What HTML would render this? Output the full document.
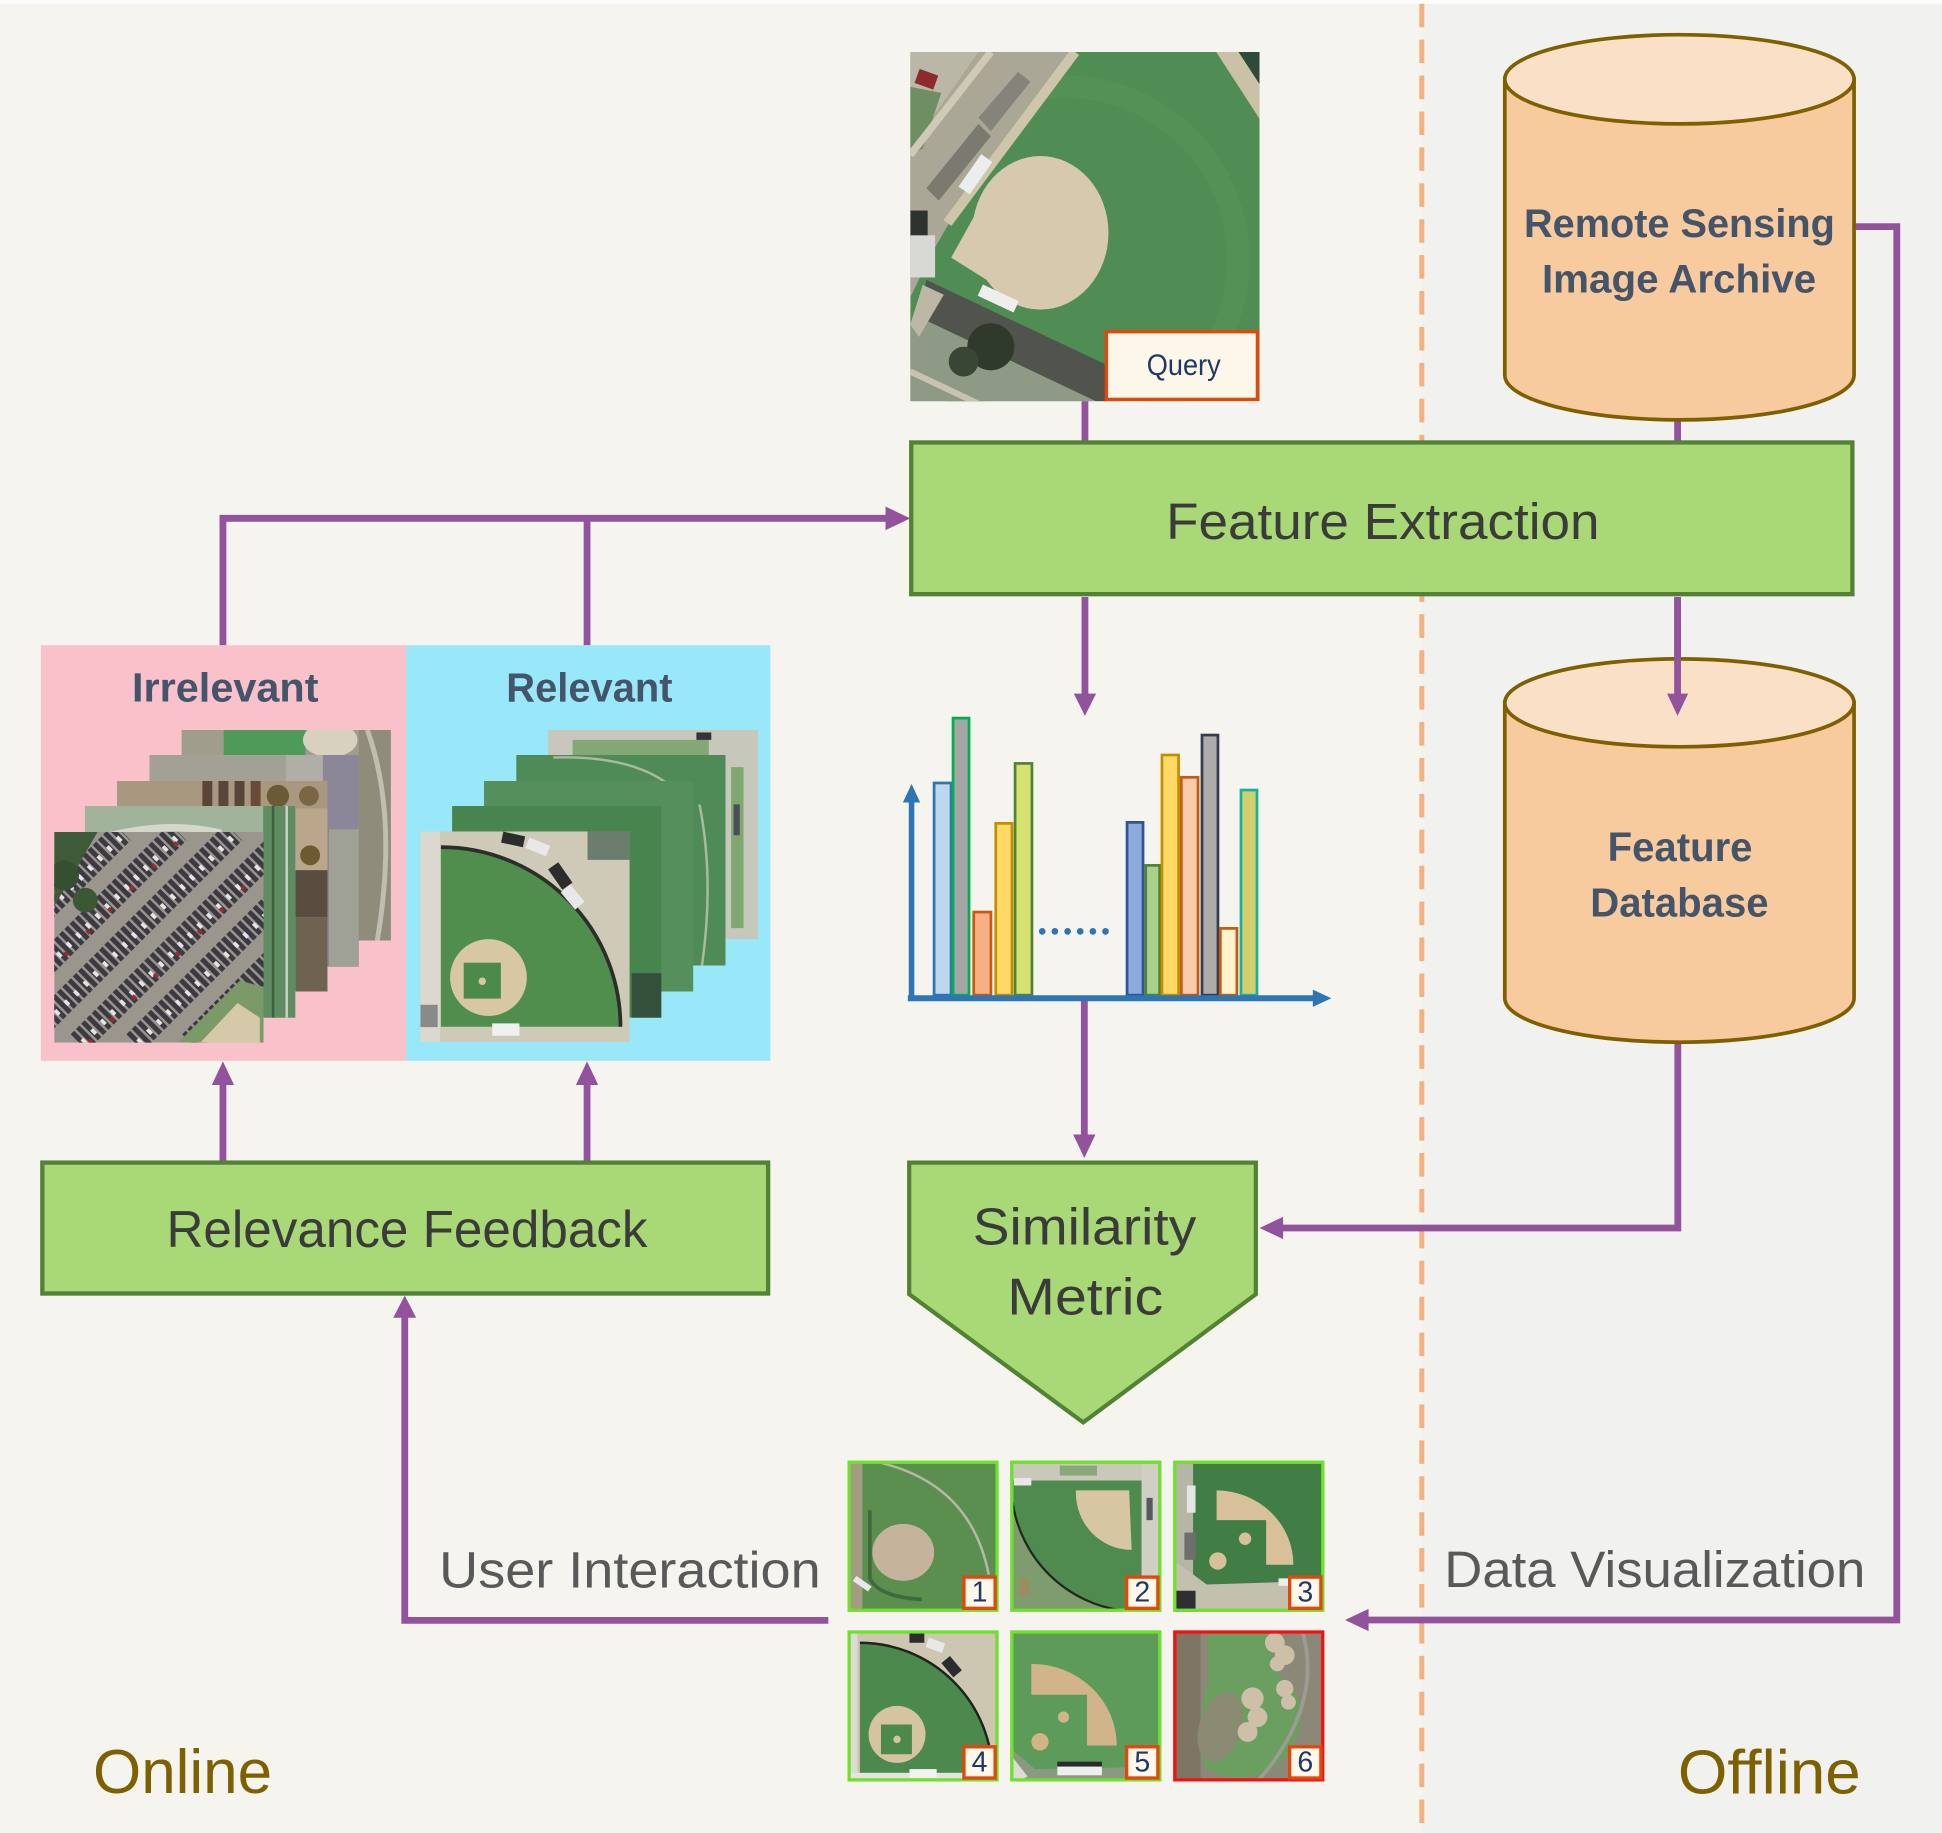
<!DOCTYPE html>
<html><head><meta charset="utf-8"><style>
html,body{margin:0;padding:0;background:#f5f4ef;}
svg{display:block;}
text{font-family:"Liberation Sans",sans-serif;}
</style></head><body>
<svg xmlns="http://www.w3.org/2000/svg" width="1942" height="1833" viewBox="0 0 1568 1480" preserveAspectRatio="none">
<!-- background -->
<rect width="1568" height="1480" fill="#f5f4ef"/>
<rect x="1148" width="420" height="1480" fill="#f1f2ef"/>
<rect width="1568" height="3" fill="#fcfcfb"/>
<line x1="1148" y1="3" x2="1148" y2="1480" stroke="#f5b07e" stroke-width="4" stroke-dasharray="19 10"/>

<!-- Query image -->
<svg x="735" y="42" width="282" height="282" viewBox="735 42 282 282">
<rect x="735" y="42" width="282" height="282" fill="#4f8d54"/>
<circle cx="860" cy="210" r="140" fill="none" stroke="#579459" stroke-width="18" opacity="0.6"/>
<polygon points="735,42 868,42 835,88 800,128 775,165 752,205 735,240" fill="#aaa796"/>
<polygon points="735,42 790,42 760,85 735,120" fill="#bab7a6"/>
<polygon points="735,70 760,75 745,120 735,125" fill="#6f8f62"/>
<rect x="740" y="58" width="16" height="12" fill="#8c2a2e" transform="rotate(20 748 64)"/>
<line x1="868" y1="42" x2="765" y2="180" stroke="#cdc6ad" stroke-width="8"/>
<line x1="800" y1="42" x2="735" y2="125" stroke="#cfc9b5" stroke-width="6"/>
<polygon points="790,95 822,58 832,66 800,106" fill="#85847a"/>
<polygon points="748,152 790,100 800,110 758,162" fill="#7b7a70"/>
<rect x="772" y="135" width="32" height="11" fill="#eceeed" transform="rotate(-55 788 141)"/>
<rect x="735" y="170" width="14" height="22" fill="#2e3330"/>
<rect x="735" y="190" width="20" height="34" fill="#d8d8d4"/>
<ellipse cx="840" cy="188" rx="55" ry="62" fill="#d6c9ad"/>
<polygon points="803,145 768,208 830,247 850,245" fill="#d6c9ad"/>
<polygon points="735,262 742,256 885,324 735,324" fill="#8f9a86"/>
<polygon points="748,226 905,300 905,324 885,324 742,256" fill="#50544d"/>
<polygon points="735,262 745,230 762,238 742,272" fill="#bdb8a5"/>
<rect x="790" y="236" width="32" height="10" fill="#eeeeee" transform="rotate(25 806 241)"/>
<circle cx="800" cy="280" r="19" fill="#2f3a2c"/>
<circle cx="778" cy="292" r="12" fill="#3a4635"/>
<line x1="735" y1="300" x2="790" y2="326" stroke="#c8c3b0" stroke-width="5"/>
<polygon points="982,42 1017,42 1017,96" fill="#c9c2a7"/>
<polygon points="1000,42 1017,42 1017,68" fill="#2f4a36"/>
</svg>
<rect x="893.35" y="267.85" width="121.9" height="54.6" fill="#fdf7e9" stroke="#e2480c" stroke-width="2.7"/>
<text x="925.9" y="302.8" font-size="24" fill="#1f3864" textLength="59.7" lengthAdjust="spacingAndGlyphs">Query</text>

<!-- connectors (purple) -->
<g stroke="#92539c" stroke-width="5.5" fill="none">
<line x1="876" y1="324" x2="876" y2="357"/>
<path d="M180,521 V418.5 H716"/>
<line x1="474" y1="521" x2="474" y2="418.5"/>
<line x1="876" y1="482" x2="876" y2="562"/>
<line x1="875.5" y1="806" x2="875.5" y2="918"/>
<line x1="1354.5" y1="482" x2="1354.5" y2="562"/>
<line x1="1354.5" y1="340" x2="1354.5" y2="357"/>
<path d="M1354.7,841 V991.5 H1035"/>
<path d="M1497,183 H1531.5 V1308 H1104"/>
<path d="M668.8,1308.3 H326.8 V1062"/>
<line x1="180" y1="937" x2="180" y2="874"/>
<line x1="474" y1="937" x2="474" y2="874"/>
</g>
<line x1="1354.5" y1="325" x2="1354.5" y2="340" stroke="#92539c" stroke-width="5.5" opacity="0.35"/>
<g fill="#92539c">
<polygon points="735,418.5 715,409 715,428"/>
<polygon points="876,578 867,560 885,560"/>
<polygon points="875.5,935 866.5,916 884.5,916"/>
<polygon points="1354.5,578 1346,560 1363,560"/>
<polygon points="1017,991.5 1036,982.5 1036,1000.5"/>
<polygon points="1086,1308 1105,1299 1105,1317"/>
<polygon points="326.8,1046 317.5,1064 336,1064"/>
<polygon points="180,857 171,876 189,876"/>
<polygon points="474,857 465,876 483,876"/>
</g>

<!-- Feature Extraction -->
<rect x="735.75" y="357.25" width="759.9" height="122.5" fill="#a9d977" stroke="#548235" stroke-width="3.5"/>
<text x="941.5" y="435.4" font-size="41" fill="#3b3b3b" textLength="350" lengthAdjust="spacingAndGlyphs">Feature Extraction</text>

<!-- Cylinders -->
<path d="M1215,64 V303 A141,36 0 0 0 1497,303 V64 Z" fill="#f7cb9d" stroke="#7f6000" stroke-width="3"/>
<ellipse cx="1356" cy="64" rx="141" ry="36" fill="#fbe0c8" stroke="#7f6000" stroke-width="3"/>
<text x="1230.5" y="191.2" font-size="32" font-weight="bold" fill="#44546a" textLength="251" lengthAdjust="spacingAndGlyphs">Remote Sensing</text>
<text x="1245" y="236.1" font-size="32" font-weight="bold" fill="#44546a" textLength="221.4" lengthAdjust="spacingAndGlyphs">Image Archive</text>

<path d="M1215,567.5 V806 A141,35.5 0 0 0 1497,806 V567.5 Z" fill="#f7cb9d" stroke="#7f6000" stroke-width="3"/>
<ellipse cx="1356" cy="567.5" rx="141" ry="35.5" fill="#fbe0c8" stroke="#7f6000" stroke-width="3"/>
<line x1="1354.5" y1="482" x2="1354.5" y2="562" stroke="#92539c" stroke-width="5.5"/>
<polygon points="1354.5,578 1346,560 1363,560" fill="#92539c"/>
<text x="1298" y="695" font-size="33" font-weight="bold" fill="#44546a" textLength="117" lengthAdjust="spacingAndGlyphs">Feature</text>
<text x="1284" y="740" font-size="33" font-weight="bold" fill="#44546a" textLength="144" lengthAdjust="spacingAndGlyphs">Database</text>

<!-- Panels -->
<rect x="33" y="521" width="295.5" height="335.5" fill="#f9c1ca"/>
<rect x="328" y="521" width="294" height="335.5" fill="#99e8f9"/>
<text x="106.6" y="566.6" font-size="33" font-weight="bold" fill="#44546a" textLength="150.6" lengthAdjust="spacingAndGlyphs">Irrelevant</text>
<text x="408.8" y="566.6" font-size="33" font-weight="bold" fill="#44546a" textLength="134.2" lengthAdjust="spacingAndGlyphs">Relevant</text>

<!-- Irrelevant stack -->
<svg x="146.6" y="589.4" width="169" height="170">
<rect width="169" height="170" fill="#a09d8c"/>
<rect x="34" y="0" width="66" height="22" fill="#4e9a58"/>
<ellipse cx="120" cy="8" rx="22" ry="14" fill="#d8d1bf"/>
<rect x="143" y="0" width="26" height="170" fill="#8f8c7c"/>
<path d="M150,0 Q175,70 158,170" stroke="#c0beb0" stroke-width="4" fill="none"/>
</svg>
<svg x="120.7" y="609.6" width="169" height="171">
<rect width="169" height="171" fill="#a3a196"/>
<rect x="118" y="0" width="51" height="171" fill="#8b8798"/>
<rect x="110" y="0" width="30" height="40" fill="#b0aea6"/>
<rect x="145" y="60" width="24" height="111" fill="#9fa196"/>
</svg>
<svg x="94.4" y="630.6" width="170" height="170">
<rect width="170" height="170" fill="#a8987f"/>
<rect x="69" y="0" width="8" height="22" fill="#5a4536"/>
<rect x="82" y="0" width="8" height="22" fill="#5a4536"/>
<rect x="95" y="0" width="8" height="22" fill="#5a4536"/>
<rect x="108" y="0" width="8" height="22" fill="#6a4a38"/>
<circle cx="130" cy="12" r="9" fill="#6b5a35"/>
<circle cx="155" cy="12" r="8" fill="#7a6545"/>
<rect x="144" y="22" width="26" height="50" fill="#b9a68b"/>
<circle cx="156" cy="60" r="8" fill="#6d5a30"/>
<rect x="144" y="72" width="26" height="38" fill="#5b4c40"/>
<rect x="144" y="110" width="26" height="60" fill="#6e6350"/>
</svg>
<svg x="68.5" y="650.8" width="170" height="171">
<rect width="170" height="171" fill="#a1b49b"/>
<path d="M0,30 Q60,10 110,22" stroke="#d4d8cc" stroke-width="6" fill="none"/>
<rect x="144" y="0" width="26" height="171" fill="#5f8c61"/>
<line x1="152" y1="0" x2="152" y2="171" stroke="#3d5e3f" stroke-width="2"/>
<line x1="163" y1="0" x2="163" y2="171" stroke="#c8d0c0" stroke-width="2"/>
</svg>
<svg x="43.8" y="671.8" width="169" height="170">
<rect width="169" height="170" fill="#9a968e"/>
<g stroke="#3b3a42" stroke-width="19" stroke-dasharray="4 2">
<line x1="-115" y1="170" x2="55" y2="0"/>
<line x1="-70" y1="170" x2="100" y2="0"/>
<line x1="-25" y1="170" x2="145" y2="0"/>
<line x1="20" y1="170" x2="190" y2="0"/>
<line x1="65" y1="170" x2="235" y2="0"/>
<line x1="110" y1="170" x2="280" y2="0"/>
</g>
<g stroke="#e4e4e6" stroke-width="5" stroke-dasharray="3 8">
<line x1="-112" y1="170" x2="58" y2="0"/>
<line x1="-67" y1="170" x2="103" y2="0"/>
<line x1="-22" y1="170" x2="148" y2="0"/>
<line x1="23" y1="170" x2="193" y2="0"/>
<line x1="68" y1="170" x2="238" y2="0"/>
</g>
<g stroke="#9a2a30" stroke-width="4" stroke-dasharray="3 22">
<line x1="-62" y1="170" x2="108" y2="0"/>
<line x1="28" y1="170" x2="198" y2="0"/>
</g>
<path d="M0,0 H35 L0,60 Z" fill="#3e5a38"/>
<circle cx="8" cy="35" r="12" fill="#355030"/>
<circle cx="25" cy="55" r="10" fill="#3b5834"/>
<polygon points="100,170 150,120 169,125 169,170" fill="#7c9a68"/>
<polygon points="118,170 148,138 166,150 166,170" fill="#d6c9aa"/>
</svg>

<!-- Relevant stack -->
<svg x="442.3" y="589.4" width="170" height="169">
<rect width="170" height="169" fill="#c8c7bb"/>
<rect x="20" y="8" width="110" height="14" fill="#84a776"/>
<rect x="148" y="30" width="10" height="130" fill="#7fa771"/>
<rect x="120" y="2" width="12" height="6" fill="#333"/>
<rect x="150" y="60" width="5" height="25" fill="#4a4f55"/>
</svg>
<svg x="416.8" y="609.6" width="169" height="170">
<rect width="169" height="170" fill="#4f8b57"/>
<path d="M30,2 Q100,0 130,30" stroke="#a9bb9c" stroke-width="2" fill="none"/>
<path d="M148,40 Q160,100 150,170" stroke="#a9bb9c" stroke-width="2" fill="none"/>
</svg>
<svg x="390.8" y="630.6" width="169" height="170">
<rect width="169" height="170" fill="#558f5b"/>
</svg>
<svg x="365" y="650.8" width="169" height="171">
<rect width="169" height="171" fill="#47844e"/>
<rect x="145" y="135" width="24" height="36" fill="#34503a"/>
</svg>
<svg x="339.4" y="671.3" width="169" height="170">
<rect width="169" height="170" fill="#cfcab7"/>
<rect width="16" height="170" fill="#dad8cf"/>
<path d="M16.6,12.7 A145,145 0 0 1 161.6,157.7 L16.6,157.7 Z" fill="#4f8e4d"/>
<path d="M16.6,12.7 A145,145 0 0 1 161.6,157.7" stroke="#2b2f2a" stroke-width="3" fill="none"/>
<rect x="135" y="0" width="34" height="23" fill="#6b7d6c"/>
<rect x="66" y="2" width="18" height="9" fill="#2c2c2c" transform="rotate(12 75 6)"/>
<rect x="86" y="8" width="18" height="9" fill="#e8e8e8" transform="rotate(22 95 12)"/>
<rect x="108" y="26" width="10" height="20" fill="#2c2c2c" transform="rotate(-35 113 36)"/>
<rect x="118" y="44" width="10" height="18" fill="#e8e8e8" transform="rotate(-40 123 53)"/>
<circle cx="55" cy="118" r="31" fill="#d8c7a3"/>
<rect x="35" y="106" width="30" height="29" fill="#4c8a4a"/>
<circle cx="50" cy="121" r="3" fill="#d8c7a3"/>
<rect x="0" y="140" width="14" height="18" fill="#8a8a8a"/>
<rect x="58" y="155" width="22" height="10" fill="#f0f0f0"/>
</svg>

<!-- Relevance Feedback -->
<rect x="34.2" y="938.7" width="586" height="105.7" fill="#a9d977" stroke="#548235" stroke-width="3.5"/>
<text x="134.4" y="1006.8" font-size="42" fill="#3b3b3b" textLength="388.4" lengthAdjust="spacingAndGlyphs">Relevance Feedback</text>

<!-- Chart -->
<g stroke-width="2.2">
<rect x="754.2" y="632.2" width="13.7" height="171.3" fill="#bdd7ee" stroke="#2e75b6"/>
<rect x="769.5" y="579.8" width="12.9" height="223.7" fill="#a5a5a5" stroke="#00b050"/>
<rect x="786.2" y="736.4" width="13.9" height="67.1" fill="#f4b183" stroke="#c55a11"/>
<rect x="804" y="664.8" width="13.1" height="138.7" fill="#ffd966" stroke="#bf9000"/>
<rect x="819.6" y="616.4" width="13.6" height="187.1" fill="#d6e26f" stroke="#548235"/>
<rect x="910" y="664" width="12.9" height="139.5" fill="#8eaadb" stroke="#2f5597"/>
<rect x="925.1" y="698.7" width="11.2" height="104.8" fill="#a9d18e" stroke="#548235"/>
<rect x="938.2" y="609.6" width="13.4" height="193.9" fill="#ffd966" stroke="#bf9000"/>
<rect x="953.8" y="627.6" width="13.5" height="175.9" fill="#f8cbad" stroke="#c55a11"/>
<rect x="970.5" y="593.5" width="12.9" height="210" fill="#aeabab" stroke="#333f50"/>
<rect x="985.3" y="749.6" width="13.4" height="53.9" fill="#fff2cc" stroke="#c55a11"/>
<rect x="1002" y="637.9" width="12.9" height="165.6" fill="#d4cf6e" stroke="#14b39a"/>
</g>
<g fill="#2e75b6">
<circle cx="841.5" cy="752" r="2.7"/><circle cx="851.7" cy="752" r="2.7"/><circle cx="862" cy="752" r="2.7"/>
<circle cx="872.2" cy="752" r="2.7"/><circle cx="882.4" cy="752" r="2.7"/><circle cx="892.6" cy="752" r="2.7"/>
<polygon points="736,633 729,648 743,648"/>
<polygon points="1075,806 1060,799 1060,813"/>
</g>
<line x1="736" y1="808" x2="736" y2="646" stroke="#2e75b6" stroke-width="4.5"/>
<line x1="733" y1="806" x2="1062" y2="806" stroke="#2e75b6" stroke-width="4.8"/>

<!-- Similarity Metric -->
<polygon points="734.1,938.7 1014,938.7 1014,1045 874.6,1148.5 734.1,1045" fill="#a9d977" stroke="#548235" stroke-width="3.4"/>
<text x="785.4" y="1004.8" font-size="42" fill="#3b3b3b" textLength="180.5" lengthAdjust="spacingAndGlyphs">Similarity</text>
<text x="813.3" y="1061.5" font-size="42" fill="#3b3b3b" textLength="125.8" lengthAdjust="spacingAndGlyphs">Metric</text>

<!-- Labels -->
<text x="354.6" y="1281.6" font-size="41" fill="#595959" textLength="308" lengthAdjust="spacingAndGlyphs">User Interaction</text>
<text x="1166.1" y="1281.5" font-size="41" fill="#595959" textLength="340" lengthAdjust="spacingAndGlyphs">Data Visualization</text>
<text x="75.1" y="1447.9" font-size="50" fill="#7f6000" textLength="144.6" lengthAdjust="spacingAndGlyphs">Online</text>
<text x="1354.7" y="1448" font-size="50" fill="#7f6000" textLength="147.7" lengthAdjust="spacingAndGlyphs">Offline</text>

<!-- Thumbnails -->
<g transform="translate(684.3,1179.4)">
<svg width="122" height="122">
<rect width="122" height="122" fill="#5b8f50"/>
<rect width="12" height="122" fill="#a19c82"/>
<path d="M28,2 Q100,20 114,92" stroke="#b9b7a8" stroke-width="2" fill="none"/>
<path d="M18,40 V95 Q25,110 60,112" stroke="#3f6b3c" stroke-width="3" fill="none"/>
<ellipse cx="45" cy="74" rx="25" ry="23" fill="#c6b39b"/>
<rect x="4" y="97" width="15" height="5" fill="#e8e8e8" transform="rotate(35 12 100)"/>
</svg>
<rect x="1.3" y="1.3" width="119.4" height="119.4" fill="none" stroke="#6ee12b" stroke-width="2.6"/>
<rect x="94" y="94" width="25.2" height="25.2" fill="#fdf8ea" stroke="#e2480c" stroke-width="2.7"/>
<text x="106.6" y="113.8" font-size="23" fill="#1f3864" text-anchor="middle">1</text>
</g>
<g transform="translate(815.7,1179.4)">
<svg width="122" height="122">
<rect width="122" height="122" fill="#7f9c6e"/>
<path d="M0,22 L2,34 A103,103 0 0 0 91,121 L122,122 V0 H0 Z" fill="#4f8b4f"/>
<path d="M2,34 A103,103 0 0 0 91,121" stroke="#1f2a1c" stroke-width="1.8" fill="none"/>
<rect width="122" height="16" fill="#c9c8b9"/>
<rect x="40" y="4" width="30" height="8" fill="#8aa77b"/>
<rect x="106" y="0" width="16" height="122" fill="#cfcfc4"/>
<rect x="110" y="30" width="5" height="18" fill="#555a60"/>
<path d="M96,24 H53 A45,46 0 0 0 98,72 Z" fill="#d6c6a2"/>
<rect x="3" y="14" width="14" height="6" fill="#e8e8e8"/>
<rect x="8" y="95" width="7" height="14" fill="#a08a60"/>
</svg>
<rect x="1.3" y="1.3" width="119.4" height="119.4" fill="none" stroke="#6ee12b" stroke-width="2.6"/>
<rect x="94" y="94" width="25.2" height="25.2" fill="#fdf8ea" stroke="#e2480c" stroke-width="2.7"/>
<text x="106.6" y="113.8" font-size="23" fill="#1f3864" text-anchor="middle">2</text>
</g>
<g transform="translate(947.3,1179.4)">
<svg width="122" height="122">
<rect width="122" height="122" fill="#417e45"/>
<rect width="16" height="122" fill="#b7b5a6"/>
<rect x="11" y="20" width="7" height="22" fill="#e5e6e4"/>
<rect x="9" y="58" width="9" height="22" fill="#6d6f6a"/>
<polygon points="0,80 27,100 122,97 122,122 0,122" fill="#c4c0ae"/>
<path d="M35,24 A62,60 0 0 1 97,84 H75 V48 H35 Z" fill="#d8c09b"/>
<circle cx="58" cy="63" r="5" fill="#d8c09b"/>
<circle cx="36" cy="81" r="7" fill="#d8c09b"/>
<rect x="2" y="105" width="16" height="17" fill="#2f2f33"/>
<rect x="85" y="95" width="18" height="6" fill="#eeeeee"/>
</svg>
<rect x="1.3" y="1.3" width="119.4" height="119.4" fill="none" stroke="#6ee12b" stroke-width="2.6"/>
<rect x="94" y="94" width="25.2" height="25.2" fill="#fdf8ea" stroke="#e2480c" stroke-width="2.7"/>
<text x="106.6" y="113.8" font-size="23" fill="#1f3864" text-anchor="middle">3</text>
</g>
<g transform="translate(684.3,1316.4)">
<svg width="122" height="122">
<rect width="122" height="122" fill="#cdc7b2"/>
<rect width="8" height="122" fill="#dcdcd5"/>
<path d="M10,10 A107,107 0 0 1 117,117 L10,117 Z" fill="#4b8a4c"/>
<path d="M10,10 A107,107 0 0 1 117,117" stroke="#1d241b" stroke-width="2" fill="none"/>
<rect x="50" y="2" width="12" height="8" fill="#2c2c2c"/>
<rect x="64" y="8" width="14" height="8" fill="#e8e8e8" transform="rotate(20 71 12)"/>
<rect x="80" y="22" width="9" height="15" fill="#2c2c2c" transform="rotate(-40 84 30)"/>
<circle cx="40" cy="84" r="23" fill="#d6c39f"/>
<rect x="27" y="76" width="25" height="24" fill="#4c8a4c"/>
<circle cx="40" cy="88" r="3" fill="#d6c39f"/>
<rect x="0" y="115" width="122" height="7" fill="#e3e3e0"/>
<rect x="50" y="112" width="22" height="7" fill="#f2f2f2"/>
</svg>
<rect x="1.3" y="1.3" width="119.4" height="119.4" fill="none" stroke="#6ee12b" stroke-width="2.6"/>
<rect x="94" y="94" width="25.2" height="25.2" fill="#fdf8ea" stroke="#e2480c" stroke-width="2.7"/>
<text x="106.6" y="113.8" font-size="23" fill="#1f3864" text-anchor="middle">4</text>
</g>
<g transform="translate(815.7,1316.4)">
<svg width="122" height="122">
<rect width="122" height="122" fill="#5c9b59"/>
<path d="M17,27 A69,66 0 0 1 86,93 H62 V52 H17 Z" fill="#d2b48a"/>
<circle cx="43" cy="70" r="4.5" fill="#d2b48a"/>
<circle cx="24" cy="90" r="7" fill="#d2b48a"/>
<polygon points="0,95 20,112 122,110 122,122 0,122" fill="#8a9a80"/>
<rect x="38" y="106" width="36" height="4" fill="#2b2b2b"/>
<rect x="38" y="110" width="36" height="7" fill="#eeeeee"/>
<polygon points="0,100 14,118 6,122 0,122" fill="#dcdcd6"/>
</svg>
<rect x="1.3" y="1.3" width="119.4" height="119.4" fill="none" stroke="#6ee12b" stroke-width="2.6"/>
<rect x="94" y="94" width="25.2" height="25.2" fill="#fdf8ea" stroke="#e2480c" stroke-width="2.7"/>
<text x="106.6" y="113.8" font-size="23" fill="#1f3864" text-anchor="middle">5</text>
</g>
<g transform="translate(947.3,1316.4)">
<svg width="122" height="122">
<rect width="122" height="122" fill="#8c8878"/>
<rect width="22" height="122" fill="#7e7565"/>
<path d="M28,0 H82 C76,20 82,35 96,46 C110,62 102,96 82,110 C66,122 40,122 26,110 C15,90 24,60 28,40 Z" fill="#6a9f5f"/>
<ellipse cx="38" cy="78" rx="17" ry="29" fill="#8b8a72" transform="rotate(18 38 78)"/>
<g fill="#cdbfa8">
<circle cx="82" cy="10" r="8"/><circle cx="90" cy="20" r="8"/><circle cx="84" cy="27" r="6"/>
<circle cx="64" cy="55" r="9"/><circle cx="68" cy="70" r="8"/><circle cx="60" cy="82" r="8"/>
<circle cx="90" cy="47" r="7"/><circle cx="93" cy="58" r="6"/>
</g>
<path d="M104,0 Q122,60 68,122" stroke="#9e9b92" stroke-width="3" fill="none"/>
</svg>
<rect x="1.3" y="1.3" width="119.4" height="119.4" fill="none" stroke="#f21010" stroke-width="2.6"/>
<rect x="94" y="94" width="25.2" height="25.2" fill="#fdf8ea" stroke="#e2480c" stroke-width="2.7"/>
<text x="106.6" y="113.8" font-size="23" fill="#1f3864" text-anchor="middle">6</text>
</g>
</svg>
</body></html>
